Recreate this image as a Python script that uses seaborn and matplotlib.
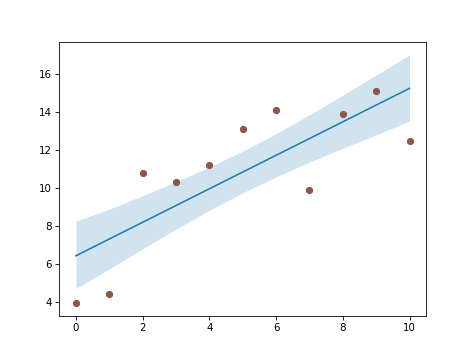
import numpy as np
import pandas as pd
import matplotlib
matplotlib.use("Agg")
import matplotlib.pyplot as plt
import seaborn as sns

# data
x_vals = [0, 1, 2, 3, 4, 5, 6, 7, 8, 9, 10]
y_vals = [3.9, 4.4, 10.8, 10.3, 11.2, 13.1, 14.1, 9.9, 13.9, 15.1, 12.5]

# confidence band edges
band_upper = [8.24, 8.88, 9.59, 10.32, 11.10, 11.94, 12.86, 13.86, 14.89, 15.96, 17.02]
band_lower = [4.70, 5.72, 6.79, 7.82, 8.82, 9.74, 10.58, 11.36, 12.09, 12.80, 13.53]

df = pd.DataFrame({"x": x_vals, "y": y_vals})

fig, ax = plt.subplots(figsize=(6.4, 4.8), dpi=74)

# shaded band behind everything
ax.fill_between(x_vals, band_lower, band_upper, color="tab:blue", alpha=0.2,
                linewidth=0, zorder=0.5)

# scatter + fitted line
sns.regplot(data=df, x="x", y="y", ax=ax, ci=None, color="tab:blue",
            scatter_kws={"color": "tab:brown", "alpha": 1, "s": 36},
            line_kws={"color": "tab:blue", "linewidth": 1.5})

ax.set_xlabel("")
ax.set_ylabel("")

fig.savefig("out.png", dpi=74)
